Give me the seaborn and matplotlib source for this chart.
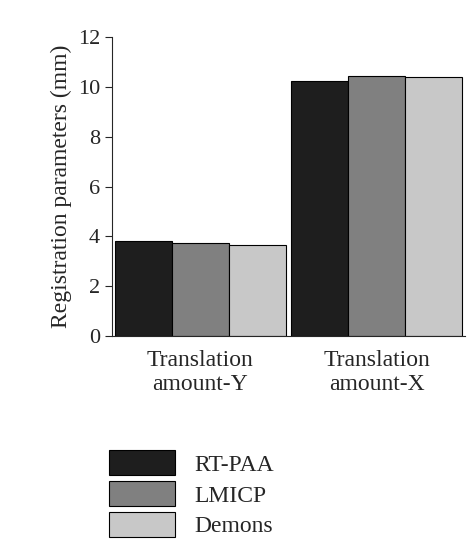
import matplotlib
matplotlib.use("Agg")
import matplotlib.pyplot as plt
import seaborn as sns
import pandas as pd

categories = ["Translation\namount-Y", "Translation\namount-X"]
methods = ["RT-PAA", "LMICP", "Demons"]
rtpaa = [3.8, 10.25]
lmicp = [3.75, 10.45]
demons = [3.65, 10.4]
colors = ["#1e1e1e", "#808080", "#c8c8c8"]

rows = []
for m, vals in zip(methods, [rtpaa, lmicp, demons]):
    for c, v in zip(categories, vals):
        rows.append({"cat": c, "method": m, "val": v})
df = pd.DataFrame(rows)

sns.set_style("ticks")
plt.rcParams["font.family"] = ["Liberation Serif", "DejaVu Serif"]
fig = plt.figure(figsize=(4.74, 5.56), dpi=100)
ax = fig.add_axes([0.236, 0.396, 0.745, 0.537])
sns.barplot(data=df, x="cat", y="val", hue="method", palette=colors,
            width=0.97, edgecolor="black", linewidth=0.8, ax=ax, legend=True)
ax.set_xlim(-0.5, 1.5)
ax.set_ylim(0, 12)
ax.set_yticks(range(0, 13, 2))
ax.set_xlabel("")
ax.set_ylabel("Registration parameters (mm)", fontsize=17)
ax.tick_params(axis="both", labelsize=16, direction="out", length=5)
ax.tick_params(axis="x", length=0, pad=10)
ax.tick_params(axis="x", labelsize=17)
sns.despine(ax=ax)
h, l = ax.get_legend_handles_labels()
ax.get_legend().remove()
fig.legend(h, l, loc="upper left", bbox_to_anchor=(0.185, 0.228), frameon=False,
           fontsize=17, handlelength=2.8, handleheight=1.2, labelspacing=0.25)
fig.savefig("out.png", dpi=100)
